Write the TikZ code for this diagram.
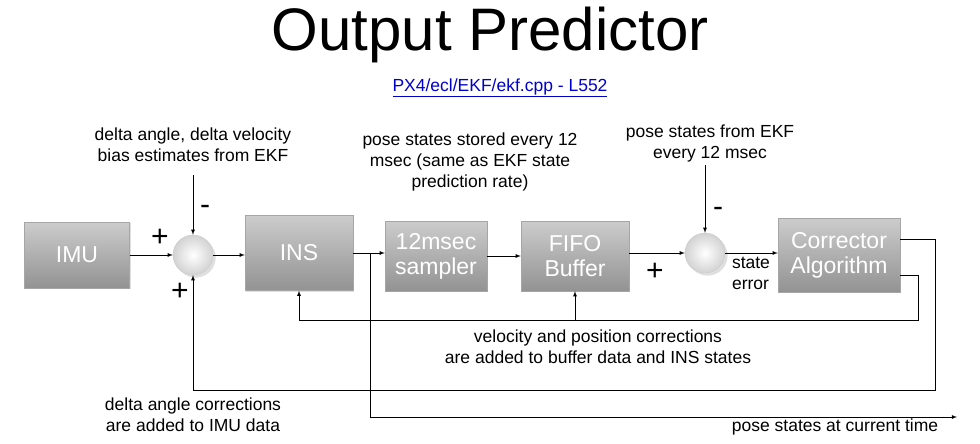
\documentclass[tikz,border=0pt]{standalone}
\usepackage{fontspec}
\setmainfont{Liberation Sans}
\usetikzlibrary{calc}
\usetikzlibrary{shadows}

\begin{document}
\begin{tikzpicture}[x=1pt, y=-1pt, >=latex,
    block/.style={rectangle, draw=gray!70, top color=gray!40, bottom color=gray!85,
      text=white, font=\fontsize{23}{25}\selectfont, align=center, inner sep=0,
      drop shadow={opacity=0.25, shadow xshift=1pt, shadow yshift=-1pt}},
    summer/.style={circle, draw=gray!40, inner color=white, outer color=gray!35, minimum size=40pt, inner sep=0,
      drop shadow={opacity=0.25}},
    note/.style={font=\fontsize{17.5}{21}\selectfont, align=center},
    sign/.style={font=\fontsize{30}{30}\selectfont}]
        \useasboundingbox (0,0) rectangle (980,444);

        \node (title) [font=\fontsize{60}{62}\selectfont] at (490,35) {Output Predictor};
        \node (link) [note, text=blue!80!black] at (500,88) {\underline{PX4/ecl/EKF/ekf.cpp - L552}};

        \node (imu) [block, minimum width=105pt, minimum height=66pt] at (77,255) {IMU};
        \node (sum1) [summer] at (193,255) {};
        \node (ins) [block, minimum width=108pt, minimum height=75pt] at (299,253) {INS};
        \node (smp) [block, minimum width=102pt, minimum height=70pt] at (436,256) {12msec\\sampler};
        \node (fifo) [block, minimum width=108pt, minimum height=70pt] at (575,256) {FIFO\\Buffer};
        \node (sum2) [summer] at (705,253) {};
        \node (corr) [block, minimum width=122pt, minimum height=74pt] at (839,255) {Corrector\\Algorithm};

        \node (n1) [note] at (193,145) {delta angle, delta velocity\\bias estimates from EKF};
        \node (n2) [note] at (470,162) {pose states stored every 12\\msec (same as EKF state\\prediction rate)};
        \node (n3) [note] at (710,143) {pose states from EKF\\every 12 msec};
        \node (n4) [note] at (598,347) {velocity and position corrections\\are added to buffer data and INS states};
        \node (n5) [note] at (193,415) {delta angle corrections\\are added to IMU data};
        \node (n6) [note] at (835,427) {pose states at current time};
        \node (n7) [note, align=left] at (751,273) {state\\error};

        \node (m1) [sign] at (205,210) {-};
        \node (p1) [sign] at (160,238) {+};
        \node (p2) [sign] at (180,292) {+};
        \node (m2) [sign] at (718,212) {-};
        \node (p3) [sign] at (655,272) {+};

        \coordinate (t1) at (193,175);
        \coordinate (t2) at (705,165);
        \coordinate (br) at (370,253);
        \coordinate (out) at (957,417);

        \draw[->, thick] (imu.east) -- (sum1.west |- imu.east);
        \draw[->, thick] (sum1) -- (ins.west |- sum1);
        \draw[->, thick] (ins.east) -- (smp.west |- ins.east);
        \draw[->, thick] (smp.east |- fifo) -- (fifo.west);
        \draw[->, thick] (fifo.east |- sum2) -- (sum2.west);
        \draw[->, thick] (sum2.east) -- (corr.west |- sum2.east);
        \draw[->, thick] (t1) -- (sum1.north);
        \draw[->, thick] (t2) -- (sum2.north);
        \draw[->, thick] (br) |- (out);
        \draw[->, thick] ($(corr.east)+(0,-16)$) -- ++(35,0) |- (193,390) -- (sum1.south);
        \draw[->, thick] ($(corr.east)+(0,20)$) -- ++(18,0) |- (ins.south |- 0,320) -- (ins.south);
        \draw[->, thick] (fifo.south |- 0,320) -- (fifo.south);
      \end{tikzpicture}
\end{document}
